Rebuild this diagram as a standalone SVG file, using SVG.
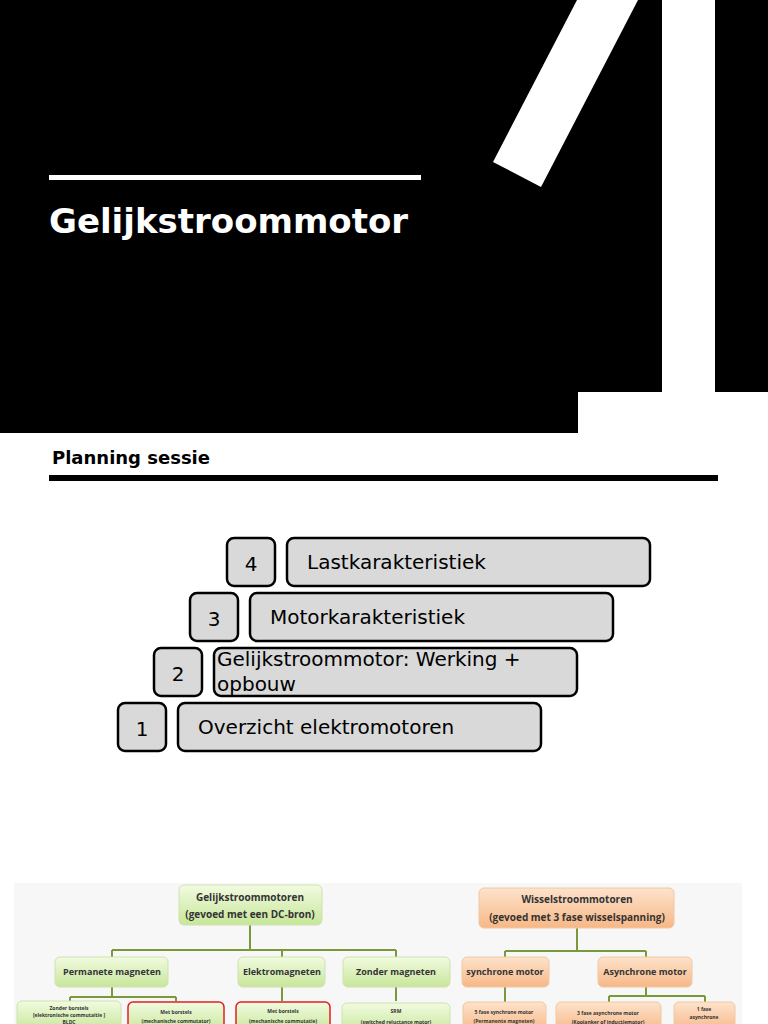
<svg xmlns="http://www.w3.org/2000/svg" width="768" height="1024" viewBox="0 0 768 1024">
<defs>
<linearGradient id="gg" x1="0" y1="0" x2="0" y2="1"><stop offset="0" stop-color="#f2fbe0"/><stop offset="1" stop-color="#c7e69a"/></linearGradient>
<linearGradient id="og" x1="0" y1="0" x2="0" y2="1"><stop offset="0" stop-color="#fde3cc"/><stop offset="1" stop-color="#f7b786"/></linearGradient>
</defs>
<style>
.nb{fill:#d9d9d9;stroke:#000;stroke-width:2.5}
.t{font-family:"DejaVu Sans",sans-serif;font-size:20px;fill:#000}
.g{fill:url(#gg);stroke:#cfe2b0;stroke-width:1}
.o{fill:url(#og);stroke:#f0c8a4;stroke-width:1}
.r{fill:url(#gg);stroke:#e02020;stroke-width:1.5}
.s{font-family:"Open Sans",sans-serif;font-weight:bold;fill:#333;text-anchor:middle}
.c{stroke:#7a9a3a;stroke-width:2;fill:none}
</style>
<rect width="768" height="1024" fill="#fff"/>
<g id="title">
<rect x="0" y="0" width="768" height="433" fill="#000"/>
<rect x="662" y="0" width="53" height="392" fill="#fff"/>
<rect x="578" y="392" width="190" height="41" fill="#fff"/>
<polygon points="577,0 638,0 541,187 493,162" fill="#fff"/>
<rect x="49" y="175" width="372" height="5" fill="#fff"/>
<text x="49" y="233" font-family="DejaVu Sans,sans-serif" font-weight="bold" font-size="34" fill="#fff">Gelijkstroommotor</text>
</g>
<g id="planning">
<text x="52" y="464" font-family="DejaVu Sans,sans-serif" font-weight="bold" font-size="18">Planning sessie</text>
<rect x="49" y="475" width="669" height="6" fill="#000"/>
</g>
<g id="n4"><rect class="nb" x="227" y="538" width="48" height="48" rx="7"/><text class="t" x="251" y="571" text-anchor="middle" font-size="25">4</text>
<rect class="nb" x="287" y="538" width="363" height="48" rx="7"/><text class="t" x="307" y="569">Lastkarakteristiek</text></g>
<g id="n3"><rect class="nb" x="190" y="593" width="48" height="48" rx="7"/><text class="t" x="214" y="626" text-anchor="middle" font-size="25">3</text>
<rect class="nb" x="250" y="593" width="363" height="48" rx="7"/><text class="t" x="270" y="624">Motorkarakteristiek</text></g>
<g id="n2"><rect class="nb" x="154" y="648" width="48" height="48" rx="7"/><text class="t" x="178" y="681" text-anchor="middle" font-size="25">2</text>
<rect class="nb" x="214" y="648" width="363" height="48" rx="7"/><text class="t" x="217" y="666">Gelijkstroommotor: Werking +</text><text class="t" x="217" y="691">opbouw</text></g>
<g id="n1"><rect class="nb" x="118" y="703" width="48" height="48" rx="7"/><text class="t" x="142" y="736" text-anchor="middle" font-size="25">1</text>
<rect class="nb" x="178" y="703" width="363" height="48" rx="7"/><text class="t" x="198" y="734">Overzicht elektromotoren</text></g>
<rect x="14" y="883" width="728" height="141" fill="#f7f7f7"/>
<g id="connectors">
<path class="c" d="M250 925V950M112 950H396M112 950V957M282 950V987M396 950V957M112 987V997M70 997H176M70 997V1001M176 997V1001M282 987V1001M396 987V1001"/>
<path class="c" d="M577 928V951M505 951H646M505 951V957M646 951V957M505 987V1002M646 987V996M609 996H705M609 996V1002M705 996V1002"/>
</g>
<g id="dc"><rect class="g" x="179" y="885" width="143" height="40" rx="5"/><text class="s" x="250" y="901" font-size="10">Gelijkstroommotoren</text><text class="s" x="250" y="918" font-size="10">(gevoed met een  DC-bron)</text></g>
<g id="pm"><rect class="g" x="55" y="957" width="113" height="30" rx="5"/><text class="s" x="112" y="975" font-size="9">Permanete magneten</text></g>
<g id="em"><rect class="g" x="238" y="957" width="87" height="30" rx="5"/><text class="s" x="282" y="975" font-size="9">Elektromagneten</text></g>
<g id="zm"><rect class="g" x="343" y="957" width="107" height="30" rx="5"/><text class="s" x="396" y="975" font-size="9">Zonder magneten</text></g>
<g id="zb"><rect class="g" x="17" y="1001" width="104" height="30" rx="5"/><text class="s" x="69" y="1010" font-size="5">Zonder borstels</text><text class="s" x="69" y="1017" font-size="5">[elektronische commutaitie ]</text><text class="s" x="69" y="1024" font-size="5">BLDC</text></g>
<g id="mb1"><rect class="r" x="128" y="1002" width="96" height="30" rx="5"/><text class="s" x="176" y="1014" font-size="5">Met borstels</text><text class="s" x="176" y="1023" font-size="5">(mechanische commutator)</text></g>
<g id="mb2"><rect class="r" x="236" y="1002" width="94" height="30" rx="5"/><text class="s" x="283" y="1013" font-size="5">Met borstels</text><text class="s" x="283" y="1023" font-size="5">(mechanische commutatie)</text></g>
<g id="srm"><rect class="g" x="342" y="1003" width="108" height="30" rx="5"/><text class="s" x="396" y="1013" font-size="5">SRM</text><text class="s" x="396" y="1024" font-size="5">(switched reluctance motor)</text></g>
<g id="ac"><rect class="o" x="479" y="888" width="195" height="40" rx="5"/><text class="s" x="577" y="903" font-size="10">Wisselstroommotoren</text><text class="s" x="577" y="921" font-size="10">(gevoed met 3 fase wisselspanning)</text></g>
<g id="sm"><rect class="o" x="462" y="957" width="87" height="30" rx="5"/><text class="s" x="505" y="975" font-size="9">synchrone motor</text></g>
<g id="am"><rect class="o" x="598" y="957" width="94" height="30" rx="5"/><text class="s" x="645" y="975" font-size="9">Asynchrone motor</text></g>
<g id="f5"><rect class="o" x="463" y="1002" width="83" height="30" rx="5"/><text class="s" x="504" y="1014" font-size="5">5 fase synchrone motor</text><text class="s" x="504" y="1023" font-size="5">(Permanente magneten)</text></g>
<g id="f3"><rect class="o" x="556" y="1002" width="105" height="30" rx="5"/><text class="s" x="608" y="1015" font-size="5">3 fase asynchrone motor</text><text class="s" x="608" y="1024" font-size="5">(Kooianker of inductiemotor)</text></g>
<g id="f1"><rect class="o" x="674" y="1002" width="61" height="30" rx="5"/><text class="s" x="704" y="1011" font-size="5">1 fase</text><text class="s" x="704" y="1019" font-size="5">asynchrone</text></g>
</svg>
